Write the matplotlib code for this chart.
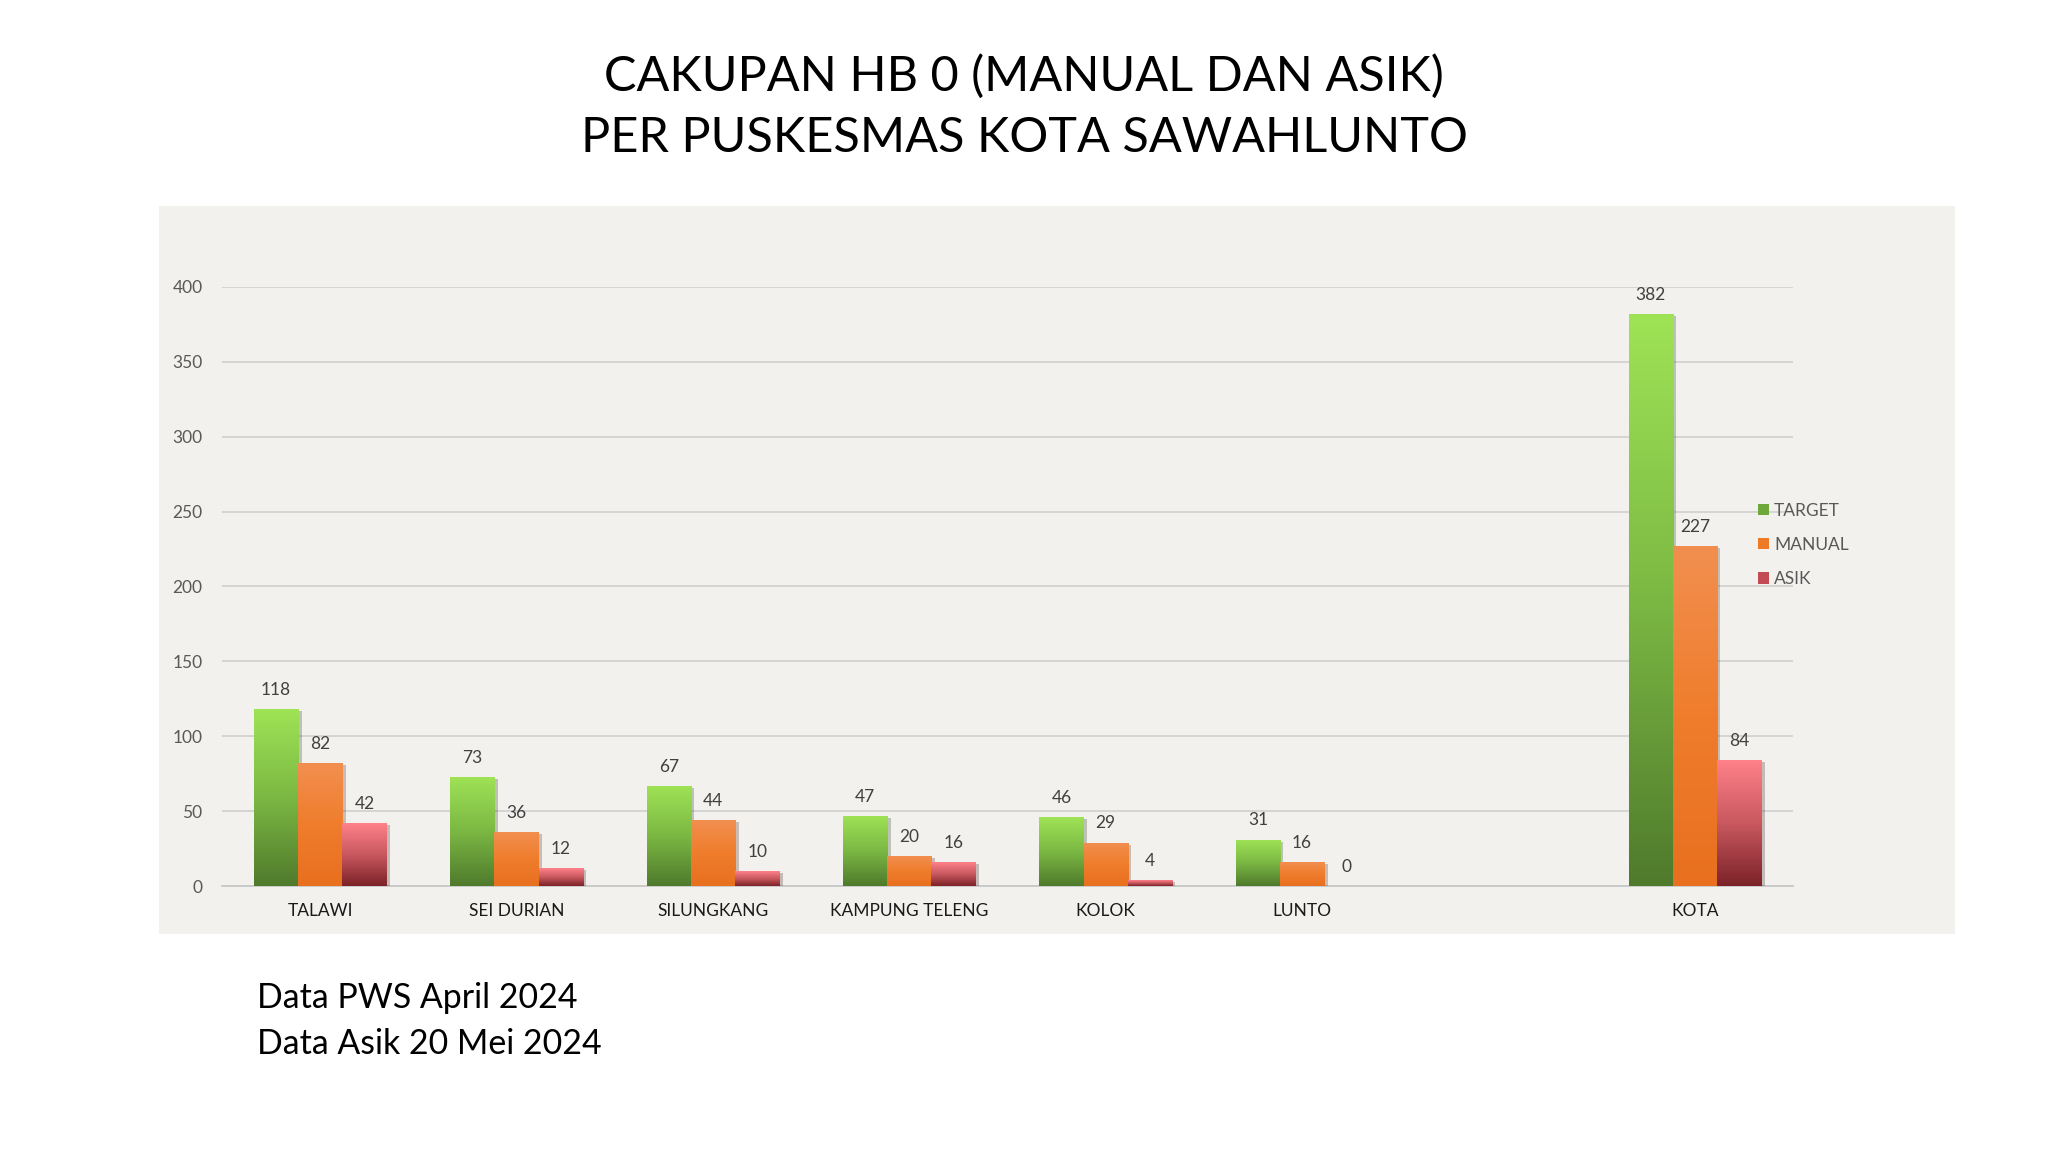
import matplotlib.pyplot as plt
import numpy as np
from matplotlib.colors import LinearSegmentedColormap
from matplotlib.patches import Rectangle
from matplotlib import patheffects as pe

plt.rcParams['font.family'] = ['Lato', 'DejaVu Sans']

# Data (the empty slot between LUNTO and KOTA is kept as in the original)
puskesmas = ['TALAWI', 'SEI DURIAN', 'SILUNGKANG', 'KAMPUNG TELENG', 'KOLOK', 'LUNTO', '', 'KOTA']
target = [118, 73, 67, 47, 46, 31, np.nan, 382]
manual = [82, 36, 44, 20, 29, 16, np.nan, 227]
asik = [42, 12, 10, 16, 4, 0, np.nan, 84]
series_names = ['TARGET', 'MANUAL', 'ASIK']
y_ticks = [0, 50, 100, 150, 200, 250, 300, 350, 400]

# gradient colours per series (top -> bottom)
grad_colors = [
    ['#9fe356', '#7bb843', '#4f7a2c'],
    ['#f28f50', '#ef7d2c', '#e8701f'],
    ['#ff818a', '#c9585f', '#7b2228'],
]
mid_colors = ['#6fa83a', '#ee7a26', '#c24b55']

fig = plt.figure(figsize=(20.48, 11.52), dpi=100)
fig.patch.set_facecolor('white')

# textured panel behind the chart (flat here)
fig.patches.append(Rectangle((0.0776, 0.1892), 0.877, 0.632, transform=fig.transFigure,
                             facecolor='#f3f1ed', edgecolor='none', zorder=-5))

ax = fig.add_axes([0.1084, 0.2309, 0.7671, 0.5200])
ax.set_facecolor('none')

x = np.arange(len(puskesmas))
w = 0.225
grad = np.linspace(1, 0, 256).reshape(-1, 1)

for i, vals in enumerate([target, manual, asik]):
    cmap = LinearSegmentedColormap.from_list('g%d' % i, grad_colors[i][::-1])
    bars = ax.bar(x + (i - 1) * w, vals, w, color=mid_colors[i], zorder=3, linewidth=0)
    for b, v in zip(bars, vals):
        if np.isnan(v):
            continue
        b.set_path_effects([pe.SimplePatchShadow(offset=(2.5, -1.5), alpha=0.25), pe.Normal()])
        if v > 0:
            x0, x1 = b.get_x(), b.get_x() + b.get_width()
            im = ax.imshow(grad, extent=[x0, x1, 0, v], aspect='auto', cmap=cmap,
                           vmin=0, vmax=1, zorder=4, interpolation='bilinear')
            im.set_clip_path(b)
        ax.annotate('%d' % v, (b.get_x() + b.get_width() / 2, v), xytext=(0, 8),
                    textcoords='offset points', ha='center', va='bottom',
                    fontsize=12.5, color='#404040', zorder=5)

ax.set_xlim(-0.5, len(puskesmas) - 0.5)
ax.set_ylim(0, 400)
ax.set_yticks(y_ticks)
ax.set_xticks(x)
ax.set_xticklabels(puskesmas, fontsize=12.5, color='#1a1a1a')
ax.tick_params(axis='y', labelsize=12.5, labelcolor='#595959', length=0, pad=14)
ax.tick_params(axis='x', length=0, pad=12)
ax.grid(axis='y', color='#d2d2d2', linewidth=1.3, zorder=1)
for s in ['top', 'right', 'left']:
    ax.spines[s].set_visible(False)
ax.spines['bottom'].set_color('#c8c8c8')
ax.spines['bottom'].set_linewidth(1.3)

handles = [Rectangle((0, 0), 1, 1, facecolor=mid_colors[i], edgecolor='none') for i in range(3)]
leg = fig.legend(handles, series_names, loc='center left', bbox_to_anchor=(0.851, 0.527),
                 frameon=False, fontsize=12.5, handlelength=0.6, handleheight=0.6,
                 handletextpad=0.3, labelspacing=1.05)
for t in leg.get_texts():
    t.set_color('#595959')

fig.text(0.5, 0.934, 'CAKUPAN HB 0 (MANUAL DAN ASIK)', ha='center', va='center',
         fontsize=35, color='black')
fig.text(0.5, 0.880, 'PER PUSKESMAS KOTA SAWAHLUNTO', ha='center', va='center',
         fontsize=35, color='black')

fig.text(0.1255, 0.1337, 'Data PWS April 2024', ha='left', va='center', fontsize=24.4, color='black')
fig.text(0.1255, 0.0938, 'Data Asik 20 Mei 2024', ha='left', va='center', fontsize=24.4, color='black')

fig.savefig('out.png', dpi=100)
